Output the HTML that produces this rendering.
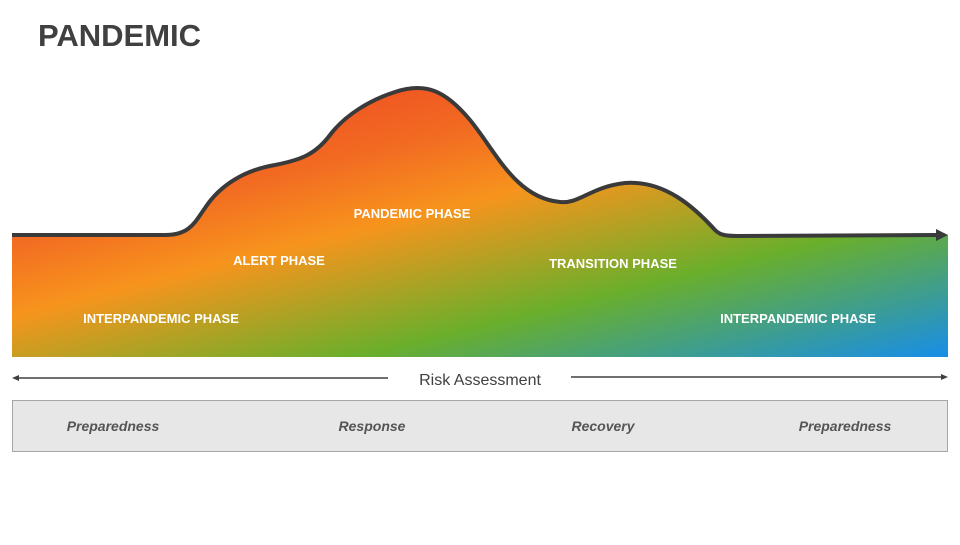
<!DOCTYPE html>
<html><head><meta charset="utf-8"><style>
body{margin:0;width:960px;height:540px;background:#fff;overflow:hidden;font-family:"Liberation Sans",sans-serif}
</style></head><body>
<svg width="960" height="540" viewBox="0 0 960 540" xmlns="http://www.w3.org/2000/svg">
<defs>
<linearGradient id="g" gradientUnits="userSpaceOnUse" x1="45" y1="182" x2="137" y2="553">
<stop offset="0" stop-color="#f05a22"/>
<stop offset="0.13" stop-color="#f26b22"/>
<stop offset="0.32" stop-color="#f7941d"/>
<stop offset="0.64" stop-color="#6aaf2b"/>
<stop offset="1" stop-color="#1a8fe2"/>
</linearGradient>
</defs>
<text x="38" y="46" font-size="31" font-weight="bold" fill="#404040">PANDEMIC</text>
<path id="c" d="M12,235 L165,235 C190,235 195,222 205,208 C220,185 245,170 275,165 C300,160 315,155 330,135 C345,115 370,100 395,92 C425,82 445,90 470,120 C495,150 515,198 560,202 C580,204 590,187 625,183 C665,180 695,208 715,230 C720,235 725,236 738,236 L938,235" fill="none"/>
<path d="M12,235 L165,235 C190,235 195,222 205,208 C220,185 245,170 275,165 C300,160 315,155 330,135 C345,115 370,100 395,92 C425,82 445,90 470,120 C495,150 515,198 560,202 C580,204 590,187 625,183 C665,180 695,208 715,230 C720,235 725,236 738,236 L948,235 L948,357 L12,357 Z" fill="url(#g)"/>
<path d="M12,235 L165,235 C190,235 195,222 205,208 C220,185 245,170 275,165 C300,160 315,155 330,135 C345,115 370,100 395,92 C425,82 445,90 470,120 C495,150 515,198 560,202 C580,204 590,187 625,183 C665,180 695,208 715,230 C720,235 725,236 738,236 L938,235" fill="none" stroke="#3a3a3a" stroke-width="4"/>
<polygon points="936,229 948,235 936,241" fill="#3a3a3a"/>
<g font-size="13" font-weight="bold" fill="#fff" text-anchor="middle">
<text x="412" y="218">PANDEMIC PHASE</text>
<text x="279" y="265">ALERT PHASE</text>
<text x="613" y="268">TRANSITION PHASE</text>
<text x="161" y="323">INTERPANDEMIC PHASE</text>
<text x="798" y="323">INTERPANDEMIC PHASE</text>
</g>
<line x1="16" y1="378" x2="388" y2="378" stroke="#404040" stroke-width="1.5"/>
<polygon points="12,378 19,375 19,381" fill="#404040"/>
<line x1="571" y1="377" x2="943" y2="377" stroke="#404040" stroke-width="1.5"/>
<polygon points="948,377 941,374 941,380" fill="#404040"/>
<text x="480" y="385" font-size="16" fill="#404040" text-anchor="middle">Risk Assessment</text>
<rect x="12.5" y="400.5" width="935" height="51" fill="#e7e7e7" stroke="#a6a6a6"/>
<g font-size="14" font-weight="bold" font-style="italic" fill="#555" text-anchor="middle">
<text x="113" y="431">Preparedness</text>
<text x="372" y="431">Response</text>
<text x="603" y="431">Recovery</text>
<text x="845" y="431">Preparedness</text>
</g>
</svg>
</body></html>
